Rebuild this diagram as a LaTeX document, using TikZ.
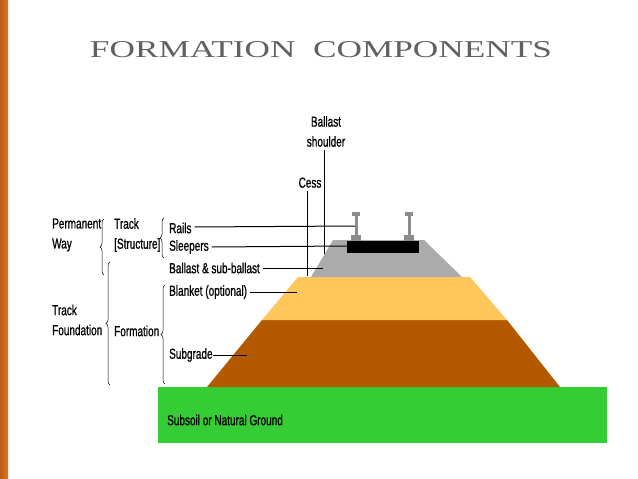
\documentclass[tikz,border=0pt]{standalone}
\usepackage{fontspec}
\usepackage{graphicx}
\setmainfont{Liberation Sans}
\newfontfamily\narrow[FakeStretch=0.69,FakeBold=0.8]{Liberation Sans}
\newfontfamily\titlefont{Liberation Serif}
\usetikzlibrary{decorations.pathreplacing}
\definecolor{ground}{HTML}{36CC36}
\definecolor{subg}{HTML}{B35A00}
\definecolor{blank}{HTML}{FFC65C}
\definecolor{ball}{HTML}{ABABAB}
\definecolor{bar}{HTML}{E8741E}
\tikzset{lbl/.style={font=\narrow\fontsize{14.5}{20}\selectfont,inner sep=0pt,anchor=west,align=left},
 lead/.style={draw=black,line width=1pt},
 brc/.style={decorate,decoration={brace,amplitude=4pt},draw=black,line width=0.5pt}}
\begin{document}
\begin{tikzpicture}[x=1pt,y=-1pt]
\useasboundingbox (0,0) rectangle (638,479);
\fill[white] (0,0) rectangle (638,479);
\shade[left color=bar!80!black,right color=bar] (0,0) rectangle (8,479);
\node[inner sep=0pt,text=black!62] (title) at (321,50) {\resizebox{462pt}{16pt}{\titlefont FORMATION\ \ COMPONENTS}};
% layers
\fill[ground] (158,387) rectangle (607,443);
\fill[subg] (207,387) -- (262,320) -- (507,320) -- (560,387) -- cycle;
\fill[blank] (262,320) -- (298,277) -- (470,277) -- (507,320) -- cycle;
\fill[ball] (311,277) -- (333,240) -- (424,240) -- (462,277) -- cycle;
\fill[black] (347,241) rectangle (419,253);
\foreach \x in {356,409}{
 \fill[black!45] (\x-1.5,214) rectangle (\x+1.5,230);
 \fill[black!45] (\x-4,212) rectangle (\x+4,216);
 \fill[black!45] (\x-5,235) rectangle (\x+5,241);
 \fill[black!45] (\x-1.5,230) rectangle (\x+1.5,235);
}
\coordinate (railpt) at (355,226);
\coordinate (slppt) at (348,246);
\coordinate (balpt) at (323,268);
\coordinate (blkpt) at (297,292);
\coordinate (subpt) at (247,355);
\coordinate (cesspt) at (307,276);
\coordinate (shpt) at (324,254);
% labels
\node[lbl] (rails) at (169,228) {Rails};
\node[lbl] (sleep) at (169,247) {Sleepers};
\node[lbl] (ballast) at (169,268) {Ballast \& sub-ballast};
\node[lbl] (blanket) at (169,292) {Blanket (optional)};
\node[lbl] (subgr) at (169,355) {Subgrade};
\node[lbl] (subsoil) at (167,420) {Subsoil or Natural Ground};
\node[lbl,anchor=south] (cess) at (310,188) {Cess};
\node[lbl,anchor=south,align=center] (shoulder) at (326,147) {Ballast\\shoulder};
\draw[lead] (rails.east) ++(3,-1) -- (railpt);
\draw[lead] (sleep.east) ++(3,0) -- (slppt);
\draw[lead] (ballast.east) ++(3,0) -- (balpt);
\draw[lead] (blanket.east) ++(3,0) -- (blkpt);
\draw[lead] (subgr.east) -- (subpt);
\draw[line width=0.8pt] (cess.south) ++(-3,3) -- (cesspt);
\draw[line width=0.8pt] (shoulder.south) ++(-2,3) -- (shpt);
\node[lbl] (perm) at (52,235) {Permanent\\Way};
\node[lbl] (track) at (114,235) {Track\\{[}Structure{]}};
\node[lbl] (found) at (52,320) {Track\\Foundation};
\node[lbl] (form) at (114,331) {Formation};
\draw[brc] (104,275) -- (104,219);
\draw[brc] (164,258) -- (164,218);
\draw[brc] (110,385) -- (110,262);
\draw[brc] (165,384) -- (165,285);
\end{tikzpicture}
\end{document}
